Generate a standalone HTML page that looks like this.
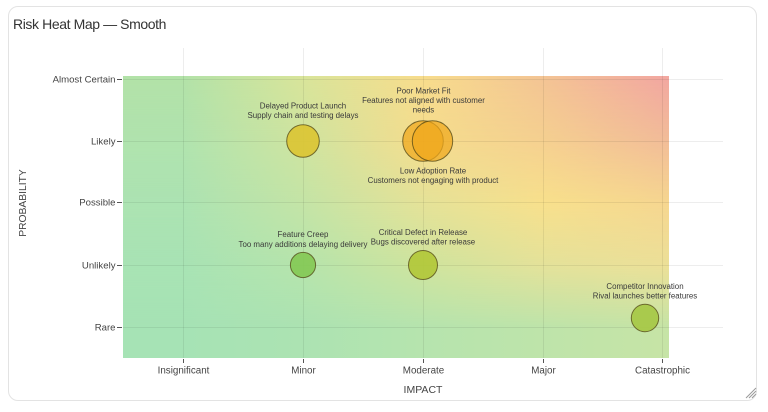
<!DOCTYPE html>
<html><head><meta charset="utf-8"><style>
html,body{margin:0;padding:0;background:#fff;}
body{width:768px;height:412px;position:relative;overflow:hidden;font-family:"Liberation Sans",Arial,sans-serif;}
.card{position:absolute;left:8px;top:6px;width:749px;height:395px;border:1px solid #e3e3e3;border-radius:10px;background:#fff;box-sizing:border-box;}
.hm{position:absolute;left:123px;top:76px;width:546px;height:282px;}
.hm div{position:absolute;left:0;top:0;width:100%;height:100%;}
#r0{background:linear-gradient(to right,#a6e3b5 0%,#a6e3b5 10.99%,#ace3b2 32.97%,#b6e4ae 54.95%,#bee4aa 76.92%,#c6e4a6 98.72%,#c6e4a6 100%);}
#r1{background:linear-gradient(to right,#a8e3b4 0%,#a8e3b4 10.99%,#b6e4ac 32.97%,#cfe49e 54.95%,#e4e29a 76.92%,#ece098 98.72%,#ece098 100%);
 -webkit-mask-image:linear-gradient(to bottom,#000 0%,#000 67.02%,transparent 89%);mask-image:linear-gradient(to bottom,#000 0%,#000 67.02%,transparent 89%);}
#r2{background:linear-gradient(to right,#ace3b2 0%,#ace3b2 10.99%,#c4e4a6 32.97%,#e5e298 54.95%,#f8e08c 76.92%,#f6d690 98.72%,#f6d690 100%);
 -webkit-mask-image:linear-gradient(to bottom,#000 0%,#000 44.68%,transparent 67.02%);mask-image:linear-gradient(to bottom,#000 0%,#000 44.68%,transparent 67.02%);}
#r3{background:linear-gradient(to right,#b0e3ae 0%,#b0e3ae 10.99%,#cfe4a0 32.97%,#f5dd8e 54.95%,#f5d090 76.92%,#f2bd98 98.72%,#f2bd98 100%);
 -webkit-mask-image:linear-gradient(to bottom,#000 0%,#000 23.05%,transparent 44.68%);mask-image:linear-gradient(to bottom,#000 0%,#000 23.05%,transparent 44.68%);}
#r4{background:linear-gradient(to right,#b2e2a8 0%,#b2e2a8 10.99%,#d8e49a 32.97%,#f7dc8c 54.95%,#f3c494 76.92%,#f2a8a0 98.72%,#f2a8a0 100%);
 -webkit-mask-image:linear-gradient(to bottom,#000 0%,#000 1.06%,transparent 23.05%);mask-image:linear-gradient(to bottom,#000 0%,#000 1.06%,transparent 23.05%);}
svg{position:absolute;left:0;top:0;}
</style></head><body>
<div class="card"></div>
<div class="hm"><div id="r0"></div><div id="r1"></div><div id="r2"></div><div id="r3"></div><div id="r4"></div></div>
<svg width="768" height="412" viewBox="0 0 768 412" xmlns="http://www.w3.org/2000/svg" font-family="Liberation Sans, Arial, sans-serif">
<text x="13" y="29" font-size="14" letter-spacing="-0.4" fill="#333">Risk Heat Map — Smooth</text>
<g stroke="rgba(0,0,0,0.07)" stroke-width="1">
<line x1="183.5" y1="48" x2="183.5" y2="358"/>
<line x1="303.5" y1="48" x2="303.5" y2="358"/>
<line x1="423.5" y1="48" x2="423.5" y2="358"/>
<line x1="543.5" y1="48" x2="543.5" y2="358"/>
<line x1="662.5" y1="48" x2="662.5" y2="358"/>
<line x1="123" y1="79.5" x2="723" y2="79.5"/>
<line x1="123" y1="141.5" x2="723" y2="141.5"/>
<line x1="123" y1="202.5" x2="723" y2="202.5"/>
<line x1="123" y1="265.5" x2="723" y2="265.5"/>
<line x1="123" y1="327.5" x2="723" y2="327.5"/>
</g>
<g stroke="#555" stroke-width="1">
<line x1="117" y1="79.5" x2="122" y2="79.5"/>
<line x1="117" y1="141.5" x2="122" y2="141.5"/>
<line x1="117" y1="202.5" x2="122" y2="202.5"/>
<line x1="117" y1="265.5" x2="122" y2="265.5"/>
<line x1="117" y1="327.5" x2="122" y2="327.5"/>
<line x1="183.5" y1="359" x2="183.5" y2="363"/>
<line x1="303.5" y1="359" x2="303.5" y2="363"/>
<line x1="423.5" y1="359" x2="423.5" y2="363"/>
<line x1="543.5" y1="359" x2="543.5" y2="363"/>
<line x1="662.5" y1="359" x2="662.5" y2="363"/>
</g>
<g font-size="9.6" fill="#444" text-anchor="end">
<text x="115.5" y="82.5">Almost Certain</text>
<text x="115.5" y="144.5">Likely</text>
<text x="115.5" y="205.5">Possible</text>
<text x="115.5" y="268.5">Unlikely</text>
<text x="115.5" y="330.5">Rare</text>
</g>
<g font-size="9.8" fill="#444" text-anchor="middle">
<text x="183.5" y="373.5">Insignificant</text>
<text x="303.5" y="373.5">Minor</text>
<text x="423.5" y="373.5">Moderate</text>
<text x="543.5" y="373.5">Major</text>
<text x="662.5" y="373.5">Catastrophic</text>
</g>
<text x="423" y="393" font-size="10.5" fill="#444" text-anchor="middle">IMPACT</text>
<text transform="translate(26,203) rotate(-90)" font-size="10.3" fill="#444" text-anchor="middle">PROBABILITY</text>

<g stroke="rgba(80,70,20,0.75)" stroke-width="1">
<circle cx="303" cy="141" r="16.3" fill="#dbc634" fill-opacity="0.92"/>
<circle cx="423" cy="141" r="20.3" fill="#f0a81c" fill-opacity="0.72"/>
<circle cx="432.5" cy="141" r="20.2" fill="#f0a81c" fill-opacity="0.72"/>
<circle cx="303" cy="265" r="12.6" fill="#84c955" fill-opacity="0.92"/>
<circle cx="423" cy="265" r="14.5" fill="#b2c83a" fill-opacity="0.92"/>
<circle cx="645" cy="318" r="13.7" fill="#a6c845" fill-opacity="0.92"/>
</g>

<g font-size="7.9" fill="#3a3a3a" text-anchor="middle">
<text x="303" y="108.5">Delayed Product Launch</text>
<text x="303" y="118">Supply chain and testing delays</text>
<text x="423.5" y="93.5">Poor Market Fit</text>
<text x="423.5" y="103">Features not aligned with customer</text>
<text x="423.5" y="112.5">needs</text>
<text x="433" y="173.5">Low Adoption Rate</text>
<text x="433" y="183">Customers not engaging with product</text>
<text x="303" y="237">Feature Creep</text>
<text x="303" y="247">Too many additions delaying delivery</text>
<text x="423" y="235">Critical Defect in Release</text>
<text x="423" y="244.5">Bugs discovered after release</text>
<text x="645" y="289">Competitor Innovation</text>
<text x="645" y="298.5">Rival launches better features</text>
</g>

<g stroke="#999" stroke-width="1">
<line x1="746" y1="398" x2="756" y2="388"/>
<line x1="749" y1="398" x2="756" y2="391"/>
<line x1="752" y1="398" x2="756" y2="394"/>
</g>
</svg>
</body></html>
